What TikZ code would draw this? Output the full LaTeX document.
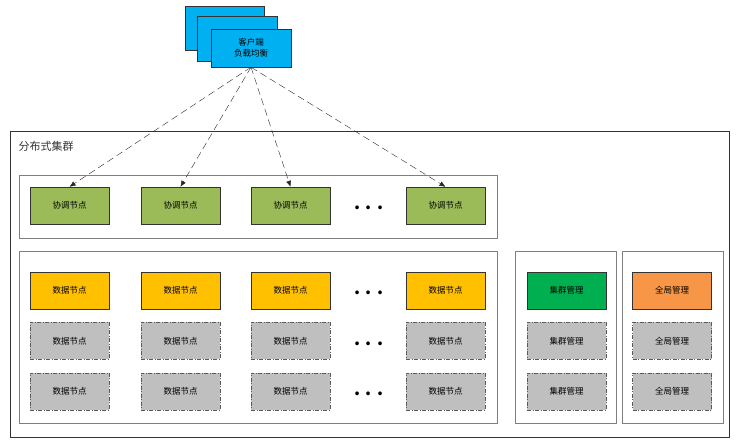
\documentclass[tikz,border=0pt]{standalone}
\usepackage{fontspec}
\setmainfont{Noto Sans CJK SC}
\usetikzlibrary{positioning}
\usetikzlibrary{arrows.meta}

\definecolor{clientblue}{HTML}{00B0F0}
\definecolor{coordgreen}{HTML}{9BBB59}
\definecolor{dataorange}{HTML}{FFC000}
\definecolor{sparegray}{HTML}{BFBFBF}
\definecolor{clustergreen}{HTML}{00B050}
\definecolor{globalorange}{HTML}{F79646}
\definecolor{framegray}{HTML}{7F7F7F}

\tikzset{
  box/.style={rectangle,draw=black!80,minimum width=79pt,minimum height=37pt,inner sep=1pt,font=\fontsize{8.5}{11}\selectfont},
  spare/.style={box,fill=sparegray,draw=black!65,dash pattern=on 4pt off 1.5pt on 1pt off 1.5pt},
  frame/.style={draw=framegray,thick},
  dots/.style={font=\LARGE\bfseries},
  request/.style={draw=black!85,dash pattern=on 7pt off 4pt,-{Latex[length=6pt,width=5pt]}}
}

\begin{document}
\begin{tikzpicture}[x=1pt,y=-1pt]
\useasboundingbox (0,0) rectangle (739,443);
% client stack
\draw[fill=clientblue,draw=black!80] (185,6) rectangle (264,50);
\draw[fill=clientblue,draw=black!80] (197,16) rectangle (277,61);
\node[box,fill=clientblue,minimum width=80pt,minimum height=38pt,align=center] (client) at (251,48) {客户端\\负载均衡};

% cluster frame
\draw[draw=black!80] (10,131) rectangle (729,437);
\node[anchor=west,font=\fontsize{11}{13}\selectfont,text=black!80] (title) at (15,146) {分布式集群};

\draw[frame] (19,175) rectangle (497,238);
\draw[frame] (19,251) rectangle (497,423);
\draw[frame] (515,251) rectangle (616,423);
\draw[frame] (622,251) rectangle (723,423);

% coordinator row
\node[box,fill=coordgreen] (c1) at (69.5,205.5) {协调节点};
\node[box,fill=coordgreen] (c2) at (180.5,205.5) {协调节点};
\node[box,fill=coordgreen] (c3) at (290.5,205.5) {协调节点};
\node[dots] (cdots) at (369,208) {. . .};
\node[box,fill=coordgreen] (c4) at (445.5,205.5) {协调节点};

% data rows
\node[box,fill=dataorange] (d11) at (69.5,290.5) {数据节点};
\node[box,fill=dataorange] (d12) at (180.5,290.5) {数据节点};
\node[box,fill=dataorange] (d13) at (290.5,290.5) {数据节点};
\node[dots] (ddots1) at (369,293) {. . .};
\node[box,fill=dataorange] (d14) at (445.5,290.5) {数据节点};

\node[spare] (d21) at (69.5,341) {数据节点};
\node[spare] (d22) at (180.5,341) {数据节点};
\node[spare] (d23) at (290.5,341) {数据节点};
\node[dots] (ddots2) at (369,344) {. . .};
\node[spare] (d24) at (445.5,341) {数据节点};

\node[spare] (d31) at (69.5,391.5) {数据节点};
\node[spare] (d32) at (180.5,391.5) {数据节点};
\node[spare] (d33) at (290.5,391.5) {数据节点};
\node[dots] (ddots3) at (369,394) {. . .};
\node[spare] (d34) at (445.5,391.5) {数据节点};

% managers
\node[box,fill=clustergreen] (m1) at (566.5,290.5) {集群管理};
\node[spare] (m2) at (566.5,341) {集群管理};
\node[spare] (m3) at (566.5,391.5) {集群管理};
\node[box,fill=globalorange] (g1) at (672,290.5) {全局管理};
\node[spare] (g2) at (672,341) {全局管理};
\node[spare] (g3) at (672,391.5) {全局管理};

% requests
\draw[request] (client.south) -- (c1.north);
\draw[request] (client.south) -- (c2.north);
\draw[request] (client.south) -- (c3.north);
\draw[request] (client.south) -- (c4.north);
\end{tikzpicture}
\end{document}
